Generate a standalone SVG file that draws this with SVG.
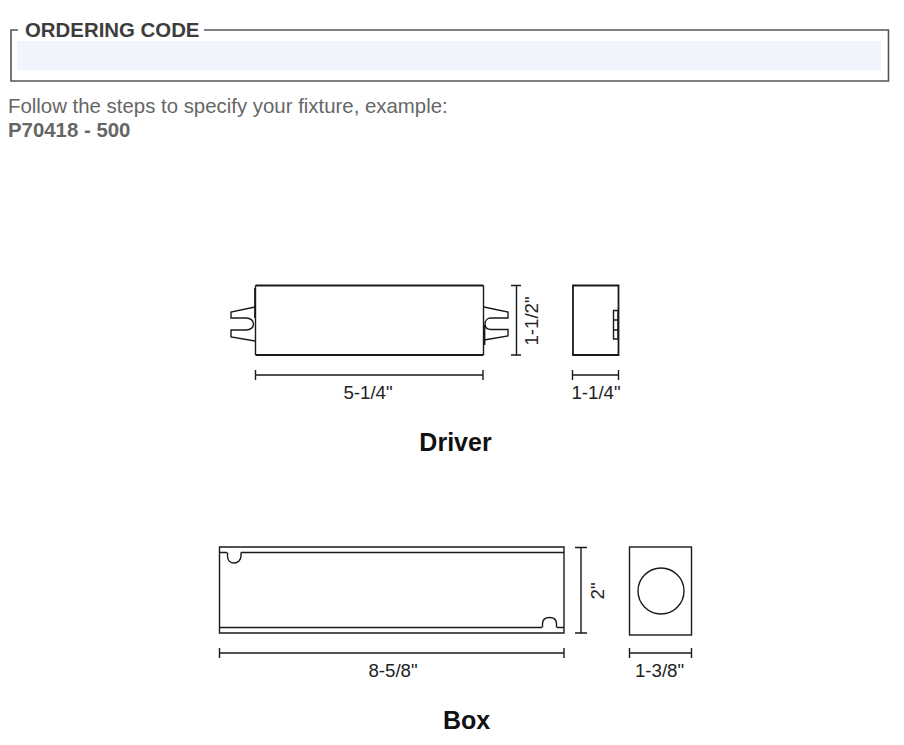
<svg xmlns="http://www.w3.org/2000/svg" width="904" height="745" viewBox="0 0 904 745">
<style>
.l{fill:none;stroke:#1a1a1a;stroke-width:1.4}
.t{stroke-width:1.8}
.d{font-family:"Liberation Sans",Arial,sans-serif;font-size:18.700px;fill:#222;text-anchor:middle}
.h{font-family:"Liberation Sans",Arial,sans-serif;font-size:25px;font-weight:bold;fill:#111;text-anchor:middle}
.g{font-family:"Liberation Sans",Arial,sans-serif;font-size:20.400px;fill:#666}
</style>
<rect width="904" height="745" fill="#fff"/>
<g id="ordering-code">
<path d="M18 30H11V81H888.500V30H204" fill="none" stroke="#555" stroke-width="1.600"/>
<rect x="17" y="41" width="864" height="29" fill="#f1f3fd"/>
<text x="25" y="37" font-family="'Liberation Sans',Arial,sans-serif" font-size="20.400" font-weight="bold" fill="#3d3d3d">ORDERING CODE</text>
</g>
<g id="instructions">
<text x="8" y="113" class="g">Follow the steps to specify your fixture, example:</text>
<text x="8" y="137" class="g" font-weight="bold">P70418 - 500</text>
</g>
<g id="driver-side">
<path class="l" d="M255.500 355V285.500"/>
<path class="l t" d="M255.500 285.500H483.500M255.500 355H483.500"/>
<path class="l" d="M483.500 285.500V355"/>
<path class="l" d="M255 307L231 312V318H246C251 318 253.500 321 253.500 324C253.500 327 251 330 246 330H231V337L255 341"/>
<path class="l" stroke-width="2.400" d="M254.800 288V318"/>
<path class="l" d="M484 307L508 312V318H491C487 318 485 321 485 324C485 327 487 329.500 491 329.500H508V336L484 340"/>
<path class="l t" d="M484.500 325V345"/>
</g>
<g id="driver-end">
<path class="l t" d="M573 285.500H618.500V355H573Z"/>
<path class="l" d="M613.500 310.500H618V339H613.500ZM613.500 320H618M613.500 330H618"/>
</g>
<g id="box-side">
<path class="l" d="M219.500 547H564V633H219.500Z"/>
<path class="l" d="M220 552.500H227M241 552.500H564M220 627.500H542M557 627.500H564"/>
<path class="l" d="M227.500 552.500V556C227.500 560 230 563 234 563C238 563 241 560 241 556V552.500"/>
<path class="l" d="M542.500 627.500V624C542.500 620 545 617.500 549.500 617.500C554 617.500 556.500 620 556.500 624V627.500"/>
</g>
<g id="box-end">
<rect class="l" x="629.500" y="547" width="62" height="88"/>
<circle class="l" cx="661" cy="591" r="23"/>
</g>
<g id="dimensions">
<path class="l" d="M255.500 375H483M255.500 370V380M483 370V380"/>
<path class="l" d="M516.500 285.500V355M511 285.500H521M511 355H521"/>
<path class="l" d="M572.500 375H618.500M572.500 370V380M618.500 370V380"/>
<path class="l" d="M219.500 653H564M219.500 648V658M564 648V658"/>
<path class="l" d="M581 547.500V633M575 547.500H587M575 633H587"/>
<path class="l" d="M629.500 653H691.500M629.500 648V658M691.500 648V658"/>
<text class="d" x="368" y="399">5-1/4"</text>
<text class="d" transform="translate(538 321) rotate(-90)">1-1/2"</text>
<text class="d" x="596" y="399">1-1/4"</text>
<text class="d" x="393" y="677">8-5/8"</text>
<text class="d" transform="translate(604 591) rotate(-90)">2"</text>
<text class="d" x="659.500" y="677">1-3/8"</text>
</g>
<text class="h" x="455.500" y="451">Driver</text>
<text class="h" x="466.500" y="729">Box</text>
</svg>
